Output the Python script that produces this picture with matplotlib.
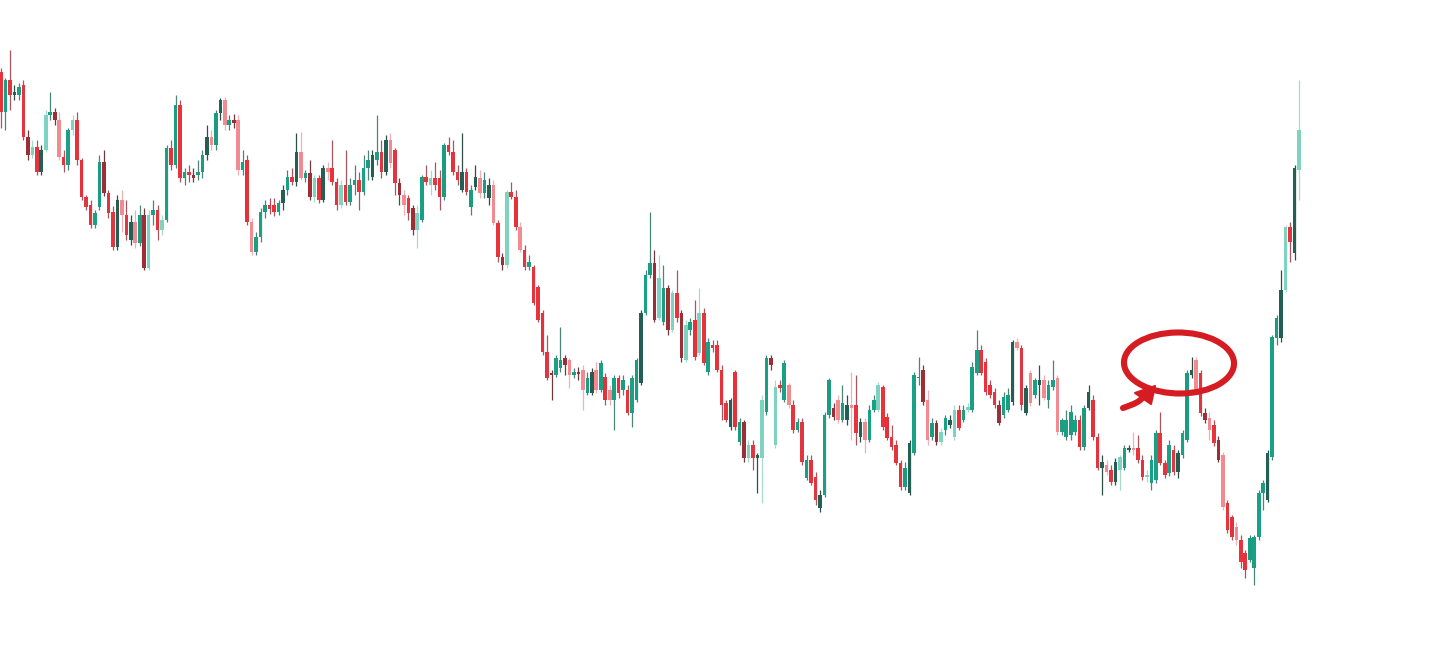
import matplotlib
matplotlib.use("Agg")
import matplotlib.pyplot as plt
from matplotlib.patches import Ellipse, Rectangle, PathPatch, Polygon
from matplotlib.path import Path
from matplotlib.collections import LineCollection, PatchCollection

# Candle data (price units, higher = up), one entry per candle, left to right.
opens = [578, 538, 570, 555, 555, 565, 513, 495, 503, 478,
         500, 535, 538, 530, 493, 485, 520, 530, 490, 453,
         445, 425, 443, 488, 457, 438, 403, 450, 435, 410,
         428, 407, 435, 382, 435, 440, 420, 430, 502, 485,
         545, 472, 478, 475, 475, 478, 495, 513, 505, 537, 550,
         525, 530, 530, 480, 490, 428, 398, 413, 438, 445, 445, 438,
         447, 460, 473, 468, 498, 472, 477, 453, 472, 450, 482,
         482, 468, 445, 465, 448, 465, 470, 458, 482, 473,
         490, 498, 478, 510, 500, 467, 455, 452, 442, 420,
         430, 473, 465, 472, 472, 453, 505, 498, 478,
         460, 478, 443, 463, 472, 457, 452, 465, 427,
         393, 385, 458, 453, 423, 400, 383, 383, 363, 337,
         298, 277, 275, 282, 292, 290, 275, 278, 280, 257, 257,
         280, 260, 273, 260, 250, 272, 260, 260, 237, 250,
         267, 337, 375, 387, 332, 328, 362, 320, 357, 337,
         290, 320, 330, 297, 337, 278, 305, 305, 280, 247,
         223, 278, 208, 228, 192, 205, 192, 192, 238, 292,
         205, 265, 250, 265, 245, 220, 228, 172, 190, 173,
         142, 155, 235, 242, 250, 230, 230, 245, 245, 213,
         228, 210, 240, 240, 263, 233, 213, 205, 187, 163,
         157, 197, 272, 280, 250, 213, 227, 208, 220, 225,
         213, 240, 230, 240, 240, 277, 300, 288, 265, 258,
         245, 235, 240, 248, 308, 302, 237, 277, 255,
         265, 270, 250, 263, 272, 218, 213, 215, 218,
         230, 203, 242, 250, 213, 182, 185, 180, 168,
         180, 182, 200, 202, 202, 190, 173, 167, 170, 217,
         187, 177, 200, 178, 195, 210, 275, 290, 277, 237,
         232, 225, 210, 195, 147, 133, 123, 110, 97, 90,
         82, 113, 157, 150, 193, 312, 312, 360, 423, 397, 480]
closes = [538, 570, 555, 558, 563, 513, 495, 503, 478, 500,
          535, 538, 530, 493, 485, 520, 530, 490, 453, 443,
          425, 437, 488, 457, 437, 403, 450, 435, 415, 428,
          407, 435, 382, 435, 440, 420, 430, 502, 485, 545,
          472, 478, 475, 472, 478, 495, 513, 505, 537, 550, 525,
          530, 527, 480, 488, 428, 398, 413, 438, 445, 441, 438, 447,
          460, 473, 468, 498, 472, 477, 453, 472, 450, 482, 478,
          468, 445, 465, 448, 465, 470, 458, 482, 490, 495,
          498, 478, 510, 487, 467, 455, 445, 437, 420, 437,
          473, 468, 472, 465, 453, 505, 498, 478, 470,
          478, 458, 460, 473, 457, 470, 465, 427, 393,
          385, 458, 453, 423, 400, 383, 388, 347, 330, 298,
          272, 275, 292, 290, 285, 275, 278, 276, 260, 272, 278,
          260, 287, 250, 250, 272, 257, 270, 237, 272, 290,
          337, 375, 387, 330, 372, 362, 320, 357, 332, 292,
          325, 328, 293, 337, 287, 308, 302, 280, 245, 230,
          250, 223, 228, 192, 205, 192, 195, 250, 292, 285,
          263, 262, 287, 245, 220, 228, 188, 190, 167, 150,
          155, 235, 270, 233, 230, 247, 245, 242, 217, 228,
          210, 240, 250, 265, 223, 212, 203, 187, 163, 182,
          207, 275, 272, 248, 210, 227, 208, 218, 232, 230,
          240, 222, 240, 243, 283, 300, 277, 258, 255, 245,
          227, 253, 255, 308, 302, 245, 262, 247, 270,
          270, 252, 265, 270, 218, 230, 230, 238, 230,
          203, 242, 258, 213, 182, 188, 178, 168, 188,
          193, 202, 202, 200, 190, 173, 175, 190, 217, 187,
          175, 205, 178, 197, 217, 277, 280, 260, 237, 230,
          220, 207, 190, 143, 120, 113, 110, 88, 80, 112,
          113, 157, 167, 197, 313, 332, 360, 423, 408, 482, 520]
highs = [582, 572, 600, 565, 567, 570, 520, 510, 510, 505,
         540, 558, 542, 538, 500, 522, 535, 538, 492, 455,
         450, 440, 495, 500, 460, 444, 455, 460, 450, 435,
         440, 445, 442, 440, 450, 445, 435, 505, 510, 555,
         550, 482, 485, 482, 490, 500, 525, 520, 540, 552, 553,
         535, 536, 535, 500, 495, 432, 418, 442, 450, 452, 452, 450,
         465, 480, 482, 517, 518, 480, 490, 475, 475, 485, 488,
         510, 472, 470, 500, 472, 485, 478, 495, 500, 500,
         535, 510, 515, 517, 502, 472, 460, 455, 445, 445,
         475, 485, 480, 488, 480, 507, 513, 510, 485,
         517, 482, 465, 485, 480, 478, 472, 470, 430,
         397, 460, 468, 460, 428, 405, 395, 385, 365, 340,
         315, 280, 295, 323, 295, 292, 282, 283, 285, 278, 282,
         288, 290, 277, 265, 275, 275, 275, 265, 275, 292,
         340, 380, 438, 400, 395, 385, 365, 360, 380, 340,
         330, 332, 350, 362, 342, 312, 310, 310, 285, 250,
         252, 280, 232, 230, 210, 210, 197, 255, 295, 295,
         270, 270, 290, 267, 250, 232, 232, 195, 195, 178,
         160, 238, 272, 247, 255, 265, 255, 278, 275, 232,
         232, 245, 255, 268, 265, 237, 225, 210, 190, 188,
         210, 278, 293, 285, 260, 232, 230, 222, 235, 235,
         245, 245, 245, 247, 288, 320, 305, 292, 270, 262,
         250, 258, 262, 310, 312, 305, 265, 280, 272,
         285, 275, 270, 290, 275, 232, 240, 245, 235,
         235, 245, 265, 255, 217, 195, 190, 185, 192,
         195, 205, 205, 218, 215, 195, 180, 195, 220, 238,
         190, 210, 205, 200, 220, 280, 293, 293, 280, 242,
         238, 230, 214, 198, 150, 135, 128, 115, 100, 115,
         115, 160, 170, 200, 315, 335, 380, 425, 428, 485, 570]
lows = [522, 520, 540, 550, 550, 510, 490, 492, 475, 475,
        498, 530, 525, 490, 478, 480, 515, 485, 450, 440,
        422, 422, 440, 454, 432, 400, 400, 418, 410, 405,
        402, 404, 380, 380, 425, 410, 415, 428, 480, 482,
        468, 465, 468, 468, 470, 472, 490, 500, 500, 530, 520,
        520, 522, 475, 475, 425, 395, 395, 408, 432, 436, 434, 435,
        440, 455, 465, 464, 470, 468, 450, 448, 447, 448, 470,
        465, 440, 442, 445, 445, 455, 440, 455, 470, 470,
        485, 472, 475, 482, 455, 445, 435, 430, 415, 402,
        428, 465, 455, 460, 440, 450, 495, 475, 465,
        458, 455, 435, 460, 452, 452, 445, 425, 388,
        380, 382, 451, 420, 398, 380, 380, 345, 328, 295,
        270, 250, 273, 278, 275, 262, 272, 270, 240, 255, 255,
        257, 258, 245, 245, 220, 252, 255, 235, 223, 248,
        265, 335, 372, 328, 330, 325, 315, 318, 328, 288,
        288, 315, 290, 295, 285, 275, 298, 278, 230, 228,
        220, 220, 205, 188, 188, 180, 157, 147, 235, 280,
        202, 258, 248, 242, 217, 218, 185, 170, 165, 145,
        138, 153, 232, 230, 227, 228, 225, 210, 205, 208,
        197, 208, 238, 238, 220, 210, 200, 185, 160, 160,
        155, 195, 265, 245, 205, 210, 205, 205, 215, 222,
        210, 220, 228, 238, 238, 275, 275, 255, 252, 242,
        225, 232, 238, 245, 300, 240, 235, 244, 252,
        245, 250, 242, 260, 215, 215, 210, 210, 215,
        200, 200, 240, 210, 180, 155, 175, 165, 165,
        160, 180, 198, 195, 187, 170, 168, 160, 167, 185,
        172, 174, 175, 172, 192, 208, 272, 257, 234, 227,
        210, 204, 188, 140, 117, 110, 105, 82, 72, 88,
        65, 110, 140, 148, 190, 305, 308, 358, 388, 390, 450]

n = len(closes)
assert len(opens) == n and len(highs) == n and len(lows) == n
idx = list(range(n))

W, H = 1440, 650
fig = plt.figure(figsize=(14.4, 6.5), dpi=100)
ax = fig.add_axes([0, 0, 1, 1])
px_per = 1298.0 / (n - 1)           # first candle at x=1px, last at x=1299px
x0 = -1.0 / px_per
ax.set_xlim(x0, x0 + W / px_per)
ax.set_ylim(0, 650)
ax.axis("off")

up_tones = ["#17a083", "#1a9c80", "#7dd3bf", "#18a184", "#245f53"]
dn_tones = ["#e8333c", "#e33540", "#f28a90", "#e6313a", "#9e2e36"]
up_wick = ["#4a8578", "#4a8578", "#a8d9cc", "#4a8578", "#2d4f48"]
dn_wick = ["#a85560", "#a85560", "#f0b0b5", "#a85560", "#6e3a40"]

bw = 0.8
segs, wcols, rects, bcols = [], [], [], []
for i in idx:
    o, c, h, l = opens[i], closes[i], highs[i], lows[i]
    t = (i * 3 + i // 4) % 5
    up = c >= o
    segs.append([(i, l), (i, h)])
    wcols.append(up_wick[t] if up else dn_wick[t])
    bottom = min(o, c)
    height = max(abs(c - o), 1.5)
    rects.append(Rectangle((i - bw / 2, bottom), bw, height))
    bcols.append(up_tones[t] if up else dn_tones[t])

ax.add_collection(LineCollection(segs, colors=wcols, linewidths=0.9, zorder=1))
ax.add_collection(PatchCollection(rects, facecolors=bcols, edgecolors="none", zorder=2))


def fp(x, y):
    """pixel (from top-left) -> figure fraction"""
    return (x / W, 1 - y / H)


# Hand-drawn style annotation: red ellipse and curved arrow
red = "#d41c22"
ell = Ellipse(fp(1179, 363), 110 / W, 61 / H, angle=2, transform=fig.transFigure,
              fill=False, edgecolor=red, linewidth=4.4, zorder=5)
fig.patches.append(ell)

shaft = Path([fp(1123, 408), fp(1134, 404), fp(1141, 402), fp(1145, 394)],
             [Path.MOVETO, Path.CURVE4, Path.CURVE4, Path.CURVE4])
fig.patches.append(PathPatch(shaft, transform=fig.transFigure, fill=False,
                             edgecolor=red, linewidth=4.4, capstyle="round", zorder=5))
head = Polygon([fp(1135, 393), fp(1155, 386), fp(1151, 404)], closed=True,
               transform=fig.transFigure, facecolor=red, edgecolor=red,
               linewidth=1.5, joinstyle="round", zorder=5)
fig.patches.append(head)

fig.savefig("out.png", dpi=100, facecolor="white")
